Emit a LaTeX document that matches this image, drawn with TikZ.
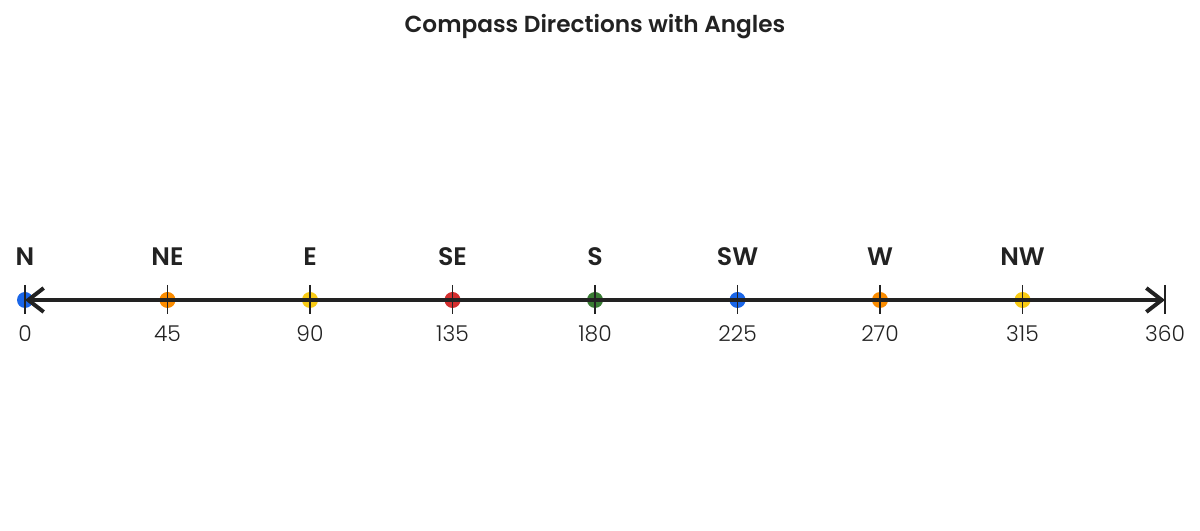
\documentclass[tikz,border=0pt]{standalone}
\usepackage{fontspec}
\setmainfont{Poppins}
\newfontfamily\semifont{Poppins SemiBold}
\newfontfamily\lightfont{Poppins Light}
\usetikzlibrary{arrows.meta,calc}
\definecolor{axisgray}{HTML}{222222}
\definecolor{dotblue}{HTML}{1A66E8}
\definecolor{dotorange}{HTML}{FB8C00}
\definecolor{dotyellow}{HTML}{FACC15}
\definecolor{dotred}{HTML}{D32F2F}
\definecolor{dotgreen}{HTML}{3A7D34}
\begin{document}
\begin{tikzpicture}[x=0.025cm,y=0.025cm,>={Straight Barb[length=11pt,width=17pt]}]
  \useasboundingbox (0,0) rectangle (1200,531);
  \node[font=\semifont\fontsize{16.5}{20}\selectfont,text=axisgray,anchor=base] (title) at (595,498) {Compass Directions with Angles};

  \coordinate (start) at (25,231);
  \coordinate (end) at (1165,231);

  \foreach \n/\d/\c [count=\i from 0] in {N/0/dotblue,NE/45/dotorange,E/90/dotyellow,SE/135/dotred,S/180/dotgreen,SW/225/dotblue,W/270/dotorange,NW/315/dotyellow,/360/} {
    \coordinate (t\i) at ({25+142.5*\i},231);
    \ifx\c\empty\else
      \fill[\c] (t\i) circle (8);
    \fi
    \node[font=\semifont\fontsize{18}{20}\selectfont,text=axisgray,anchor=base] (dir\i) at ($(t\i)+(0,34)$) {\n};
    \node[font=\lightfont\fontsize{15.5}{18}\selectfont,text=axisgray,anchor=base] (num\i) at ($(t\i)+(0,-42)$) {\d};
  }

  \draw[axisgray,line width=2.8pt,line cap=round,<->] (start) -- (end);

  \foreach \i in {0,...,8} {
    \draw[axisgray,line width=0.9pt] ($(t\i)+(0,15)$) -- ($(t\i)+(0,-14)$);
  }

\end{tikzpicture}
\end{document}
